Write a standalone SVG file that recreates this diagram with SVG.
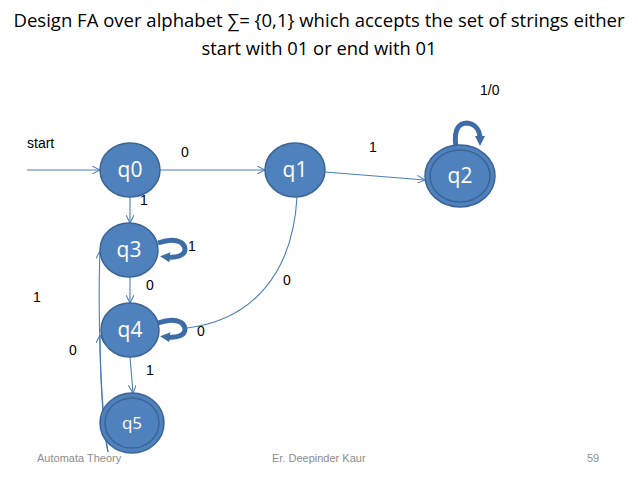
<svg xmlns="http://www.w3.org/2000/svg" width="638" height="479" viewBox="0 0 638 479">
<defs>
<style>
.node{fill:#4F81BD;stroke:#3A6496;stroke-width:1.5}
.ring{fill:none;stroke:#3A6496;stroke-width:1.5}
.lbl{font-family:"Open Sans","Noto Sans",sans-serif;font-size:21px;fill:#fff;text-anchor:middle}
.edge{fill:none;stroke:#4A7EBB;stroke-width:1.1}
.loop{fill:none;stroke:#3D6CA6;stroke-width:5}
.t{font-family:"Liberation Sans",Arial,sans-serif;font-size:14px;fill:#000}
.title{font-family:"Open Sans","Noto Sans",sans-serif;font-size:18px;fill:#000;text-anchor:middle}
.foot{font-family:"Liberation Sans",Arial,sans-serif;font-size:11px;fill:#8C8C8C}
</style>
<marker id="arr" viewBox="0 0 10 10" refX="10" refY="5" markerWidth="8" markerHeight="8" orient="auto" markerUnits="userSpaceOnUse">
<path d="M0,0 L10,5 L0,10" fill="none" stroke="#4A7EBB" stroke-width="1.3"/>
</marker>
<marker id="loopArr" viewBox="0 0 10 10" refX="3" refY="5" markerWidth="10" markerHeight="10" orient="auto" markerUnits="userSpaceOnUse">
<path d="M0,0 L10,5 L0,10 z" fill="#3D6CA6"/>
</marker>
</defs>
<rect width="638" height="479" fill="#fff"/>
<text class="title" x="319" y="27" textLength="611" lengthAdjust="spacingAndGlyphs">Design FA over alphabet ∑= {0,1} which accepts the set of strings either</text>
<text class="title" x="319" y="55" textLength="235" lengthAdjust="spacingAndGlyphs">start with 01 or end with 01</text>

<g id="connectors">
<line class="edge" x1="27" y1="170" x2="100" y2="170" marker-end="url(#arr)"/>
<line class="edge" x1="160" y1="170" x2="265" y2="170" marker-end="url(#arr)"/>
<line class="edge" x1="325" y1="172" x2="425" y2="180" marker-end="url(#arr)"/>
<line class="edge" x1="130" y1="197" x2="130" y2="223" marker-end="url(#arr)"/>
<line class="edge" x1="130" y1="277" x2="130" y2="303" marker-end="url(#arr)"/>
<line class="edge" x1="130" y1="357" x2="133" y2="393" marker-end="url(#arr)"/>
<path class="edge" d="M297,197 C293,270 255,320 187,328"/>
<path class="edge" d="M108,452 C100,420 98,300 100,251" marker-end="url(#arr)"/>
<path class="edge" d="M108,452 C103,420 100,370 100,335" marker-end="url(#arr)"/>
<path class="loop" d="M158,243 C172,238 184,240 185,249 C185,256 176,258 167,257" marker-end="url(#loopArr)"/>
<path class="loop" d="M158,323 C172,318 184,320 185,329 C185,336 176,338 167,337" marker-end="url(#loopArr)"/>
<path class="loop" d="M456,147 C453,128 460,123 467,123 C476,124 480,131 480,139" marker-end="url(#loopArr)"/>
<text class="t" x="27" y="148">start</text>
<text class="t" x="181" y="157">0</text>
<text class="t" x="369" y="152">1</text>
<text class="t" x="480" y="95">1/0</text>
<text class="t" x="140" y="205">1</text>
<text class="t" x="188" y="251">1</text>
<text class="t" x="146" y="290">0</text>
<text class="t" x="283" y="285">0</text>
<text class="t" x="197" y="336">0</text>
<text class="t" x="146" y="375">1</text>
<text class="t" x="33" y="302">1</text>
<text class="t" x="69" y="355">0</text>
</g>

<g id="q0"><ellipse class="node" cx="130" cy="170" rx="30" ry="27"/><text class="lbl" x="130" y="177">q0</text></g>
<g id="q1"><ellipse class="node" cx="295" cy="170" rx="30" ry="27"/><text class="lbl" x="295" y="177">q1</text></g>
<g id="q2"><ellipse class="node" cx="460" cy="176" rx="35" ry="31"/><ellipse class="ring" cx="460" cy="176" rx="30" ry="26"/><text class="lbl" x="460" y="183">q2</text></g>
<g id="q3"><ellipse class="node" cx="129" cy="250" rx="29" ry="27"/><text class="lbl" x="129" y="257">q3</text></g>
<g id="q4"><ellipse class="node" cx="130" cy="330" rx="29" ry="27"/><text class="lbl" x="130" y="337">q4</text></g>
<g id="q5"><ellipse class="node" cx="132" cy="423" rx="32" ry="30"/><ellipse class="ring" cx="132" cy="423" rx="27" ry="25"/><text class="lbl" x="132" y="429" style="font-size:17px">q5</text></g>

<text class="foot" x="37" y="462">Automata Theory</text>
<text class="foot" x="272" y="462">Er. Deepinder Kaur</text>
<text class="foot" x="587" y="462">59</text>
</svg>
